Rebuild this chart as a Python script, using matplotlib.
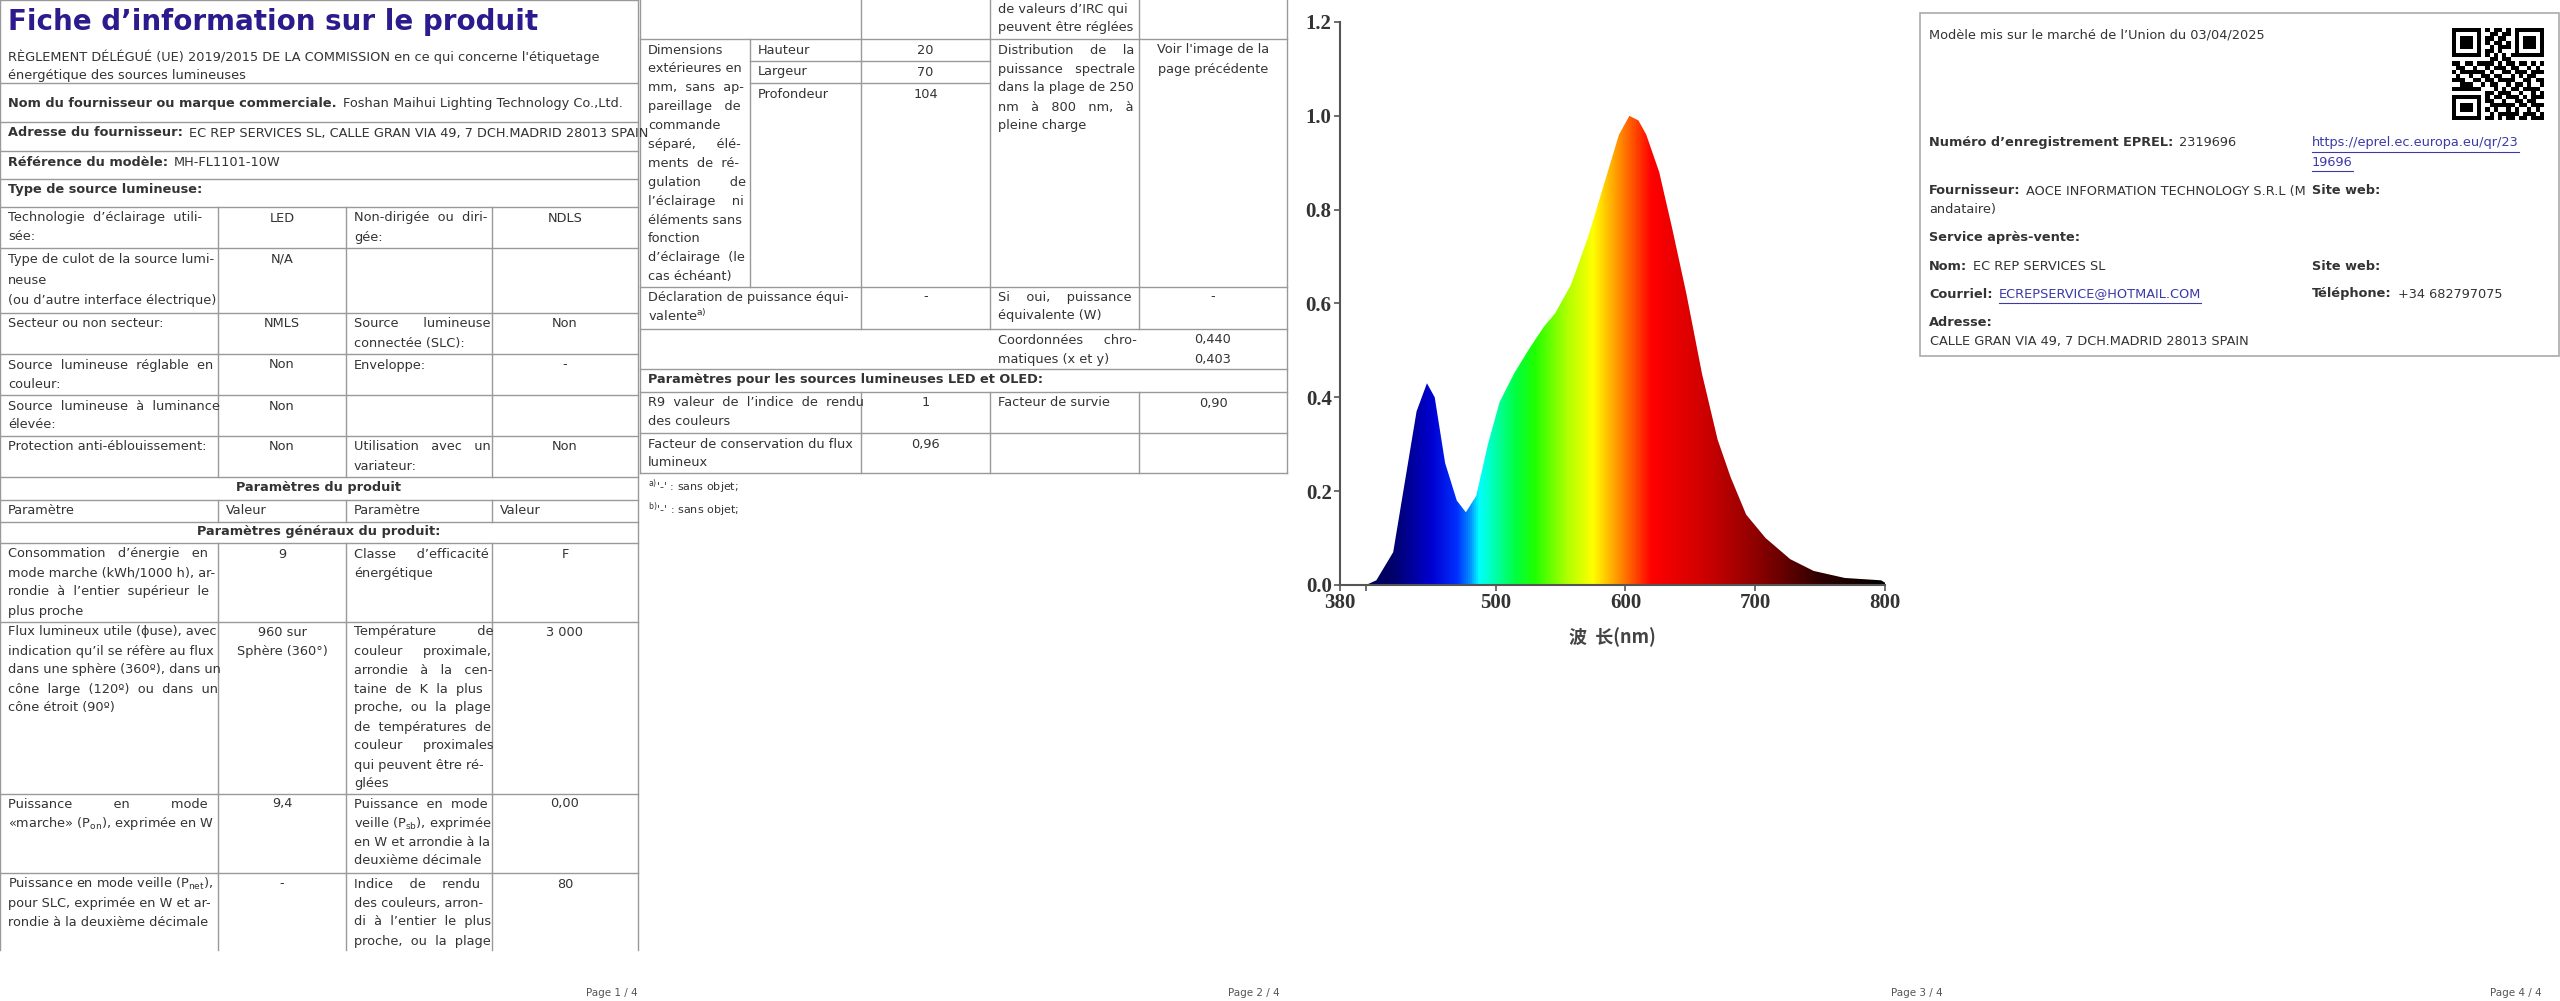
import matplotlib
matplotlib.use('Agg')
import matplotlib.pyplot as plt
from matplotlib.lines import Line2D
from matplotlib.patches import Rectangle, Polygon
from matplotlib.colors import LinearSegmentedColormap
from matplotlib import font_manager
import numpy as np

W, H = 2560, 1001
names = {f.name for f in font_manager.fontManager.ttflist}
BODY = 'Liberation Sans Narrow' if 'Liberation Sans Narrow' in names else 'DejaVu Sans'
plt.rcParams['font.family'] = [BODY, 'DejaVu Sans']
FS = 10.5 if BODY == 'Liberation Sans Narrow' else 9.3

# spectre (page 3)
wavelength = [380, 400, 408, 421, 430, 439, 447, 453, 461, 470, 477, 485, 494, 503, 514, 525,
              537, 546, 558, 571, 583, 595, 603, 610, 616, 626, 636, 647, 659, 671, 681, 693,
              708, 727, 745, 769, 797, 800]
intensity = [0.0, 0.0, 0.01, 0.07, 0.22, 0.37, 0.43, 0.40, 0.26, 0.18, 0.155, 0.19, 0.30, 0.39,
             0.45, 0.50, 0.55, 0.58, 0.64, 0.74, 0.85, 0.96, 1.0, 0.99, 0.96, 0.88, 0.76, 0.62,
             0.45, 0.31, 0.23, 0.15, 0.10, 0.055, 0.03, 0.015, 0.01, 0.005]
x_ticks = [380, 500, 600, 700, 800]
y_ticks = [0.0, 0.2, 0.4, 0.6, 0.8, 1.0, 1.2]

fig = plt.figure(figsize=(25.6, 10.01), dpi=100)
fig.patch.set_facecolor('white')
renderer = fig.canvas.get_renderer()


def T(x, y, s, size=None, ha='left', weight='normal', color='#333333', **kw):
    return fig.text(x / W, 1 - y / H, s, ha=ha, va='center', fontsize=size or FS, weight=weight,
                    color=color, **kw)


def TT(x, y, parts, gap=6):
    """label en gras puis valeur, l'un après l'autre"""
    for s, w, col in parts:
        t = T(x, y, s, weight=w, color=col)
        x = t.get_window_extent(renderer).x1 + gap
    return t


def L(x0, y0, x1, y1, color='#999999', lw=1.0):
    fig.add_artist(Line2D([x0 / W, x1 / W], [1 - y0 / H, 1 - y1 / H], color=color, lw=lw))


def U(t, y, color):
    e = t.get_window_extent(renderer)
    L(e.x0, y, e.x1, y, color=color, lw=0.8)


def lines(x, ys, texts, **kw):
    for y, s in zip(ys, texts):
        T(x, y, s, **kw)


G = '#333333'
# ---------------- Page 1 ----------------
c1, c2, c3, R = 218, 346, 492, 638
L(0, 0, 0, 950); L(R, 0, R, 950); L(0, 0, R, 0)
T(8, 22, "Fiche d’information sur le produit", size=20, weight='bold', color='#2b1b8c')
lines(8, [57, 75], ["RÈGLEMENT DÉLÉGUÉ (UE) 2019/2015 DE LA COMMISSION en ce qui concerne l'étiquetage",
                    "énergétique des sources lumineuses"])
for y in [83, 122, 151, 179, 207]:
    L(0, y, R, y)
TT(8, 104, [("Nom du fournisseur ou marque commerciale.", 'bold', G),
            ("Foshan Maihui Lighting Technology Co.,Ltd.", 'normal', G)])
TT(8, 133, [("Adresse du fournisseur:", 'bold', G),
            ("EC REP SERVICES SL, CALLE GRAN VIA 49, 7 DCH.MADRID 28013 SPAIN", 'normal', G)])
TT(8, 162, [("Référence du modèle:", 'bold', G), ("MH-FL1101-10W", 'normal', G)])
T(8, 190, "Type de source lumineuse:", weight='bold')
for x in [c1, c2, c3]:
    L(x, 207, x, 477)
rows1 = [
    (218, ["Technologie  d’éclairage  utili-", "sée:"], "LED", ["Non-dirigée  ou  diri-", "gée:"], "NDLS", 248),
    (259, ["Type de culot de la source lumi-", "neuse", "(ou d’autre interface électrique)"], "N/A", [], "", 313),
    (324, ["Secteur ou non secteur:"], "NMLS", ["Source      lumineuse", "connectée (SLC):"], "Non", 354),
    (365, ["Source  lumineuse  réglable  en", "couleur:"], "Non", ["Enveloppe:"], "-", 395),
    (406, ["Source  lumineuse  à  luminance", "élevée:"], "Non", [], "", 436),
    (447, ["Protection anti-éblouissement:"], "Non", ["Utilisation   avec   un", "variateur:"], "Non", 477),
]
for y0, a, b, c, d, yl in rows1:
    step = 19 if len(a) < 3 else 21
    lines(8, [y0 + i * step for i in range(len(a))], a)
    T((c1 + c2) / 2, y0, b, ha='center')
    lines(c2 + 8, [y0 + i * 19 for i in range(len(c))], c)
    T((c3 + R) / 2, y0, d, ha='center')
    L(0, yl, R, yl)
T(R / 2, 488, "Paramètres du produit", weight='bold', ha='center')
L(0, 500, R, 500)
for x in [c1, c2, c3]:
    L(x, 500, x, 522)
T(8, 511, "Paramètre"); T(c1 + 8, 511, "Valeur"); T(c2 + 8, 511, "Paramètre"); T(c3 + 8, 511, "Valeur")
L(0, 522, R, 522)
T(R / 2, 532, "Paramètres généraux du produit:", weight='bold', ha='center')
L(0, 543, R, 543)
for x in [c1, c2, c3]:
    L(x, 543, x, 950)
rows2 = [
    (554, ["Consommation   d’énergie   en", "mode marche (kWh/1000 h), ar-", "rondie  à  l’entier  supérieur  le",
           "plus proche"], ["9"], ["Classe     d’efficacité", "énergétique"], "F", 622),
    (632, ["Flux lumineux utile (ϕuse), avec", "indication qu’il se réfère au flux", "dans une sphère (360º), dans un",
           "cône  large  (120º)  ou  dans  un", "cône étroit (90º)"], ["960 sur", "Sphère (360°)"],
     ["Température          de", "couleur     proximale,", "arrondie   à   la   cen-", "taine  de  K  la  plus",
      "proche,  ou  la  plage", "de  températures  de", "couleur     proximales", "qui peuvent être ré-", "glées"],
     "3 000", 794),
    (804, ["Puissance          en          mode", r"«marche» ($\mathregular{P_{on}}$), exprimée en W"], ["9,4"],
     ["Puissance  en  mode", r"veille ($\mathregular{P_{sb}}$), exprimée", "en W et arrondie à la", "deuxième décimale"],
     "0,00", 873),
    (884, [r"Puissance en mode veille ($\mathregular{P_{net}}$),", "pour SLC, exprimée en W et ar-",
           "rondie à la deuxième décimale"], ["-"],
     ["Indice    de    rendu", "des couleurs, arron-", "di  à  l’entier  le  plus", "proche,  ou  la  plage"], "80", None),
]
for y0, a, b, c, d, yl in rows2:
    lines(8, [y0 + i * 19 for i in range(len(a))], a)
    lines((c1 + c2) / 2, [y0 + i * 19 for i in range(len(b))], b, ha='center')
    lines(c2 + 8, [y0 + i * 19 for i in range(len(c))], c)
    T((c3 + R) / 2, y0, d, ha='center')
    if yl:
        L(0, yl, R, yl)
T(R, 993, "Page 1 / 4", size=7.5, ha='right', color='#555555')

# ---------------- Page 2 ----------------
X0, d1, d2, d3, d4, R2 = 640, 750, 861, 990, 1139, 1287
L(X0, 0, X0, 473); L(R2, 0, R2, 473)
for x in [d2, d3, d4]:
    L(x, 0, x, 329)
lines(d3 + 8, [9, 28], ["de valeurs d’IRC qui", "peuvent être réglées"])
L(X0, 39, R2, 39)
L(d1, 39, d1, 287)
L(d1, 61, d3, 61); L(d1, 83, d3, 83)
lines(X0 + 8, [50 + i * 18.9 for i in range(13)],
      ["Dimensions", "extérieures en", "mm,  sans  ap-", "pareillage   de", "commande", "séparé,     élé-",
       "ments  de  ré-", "gulation       de", "l’éclairage    ni", "éléments sans", "fonction",
       "d’éclairage  (le", "cas échéant)"])
T(d1 + 8, 50, "Hauteur"); T(d1 + 8, 72, "Largeur"); T(d1 + 8, 94, "Profondeur")
T((d2 + d3) / 2, 50, "20", ha='center'); T((d2 + d3) / 2, 72, "70", ha='center')
T((d2 + d3) / 2, 94, "104", ha='center')
lines(d3 + 8, [50, 69, 88, 107, 125], ["Distribution    de    la", "puissance   spectrale",
                                     "dans la plage de 250", "nm   à   800   nm,   à", "pleine charge"])
lines((d4 + R2) / 2, [50, 69], ["Voir l'image de la", "page précédente"], ha='center')
L(X0, 287, R2, 287)
lines(X0 + 8, [297, 316], ["Déclaration de puissance équi-", r"valente$\mathregular{^{a)}}$"])
T((d2 + d3) / 2, 297, "-", ha='center')
lines(d3 + 8, [297, 316], ["Si    oui,    puissance", "équivalente (W)"])
T((d4 + R2) / 2, 297, "-", ha='center')
L(X0, 329, R2, 329)
lines(d3 + 8, [340, 359], ["Coordonnées     chro-", "matiques (x et y)"])
lines((d4 + R2) / 2, [340, 359], ["0,440", "0,403"], ha='center')
L(X0, 369, R2, 369)
T(X0 + 8, 380, "Paramètres pour les sources lumineuses LED et OLED:", weight='bold')
L(X0, 392, R2, 392)
for x in [d2, d3, d4]:
    L(x, 392, x, 473)
lines(X0 + 8, [403, 421], ["R9  valeur  de  l’indice  de  rendu", "des couleurs"])
T((d2 + d3) / 2, 403, "1", ha='center')
T(d3 + 8, 403, "Facteur de survie")
T((d4 + R2) / 2, 403, "0,90", ha='center')
L(X0, 433, R2, 433)
lines(X0 + 8, [444, 462], ["Facteur de conservation du flux", "lumineux"])
T((d2 + d3) / 2, 444, "0,96", ha='center')
L(X0, 473, R2, 473)
T(X0 + 8, 487, r"$\mathregular{^{a)}}$'-' : sans objet;", size=8)
T(X0 + 8, 510, r"$\mathregular{^{b)}}$'-' : sans objet;", size=8)
T(1280, 993, "Page 2 / 4", size=7.5, ha='right', color='#555555')

# ---------------- Page 3 : spectre ----------------
ax = fig.add_axes([1340 / W, 1 - 585 / H, 545 / W, 563 / H])
cmap = LinearSegmentedColormap.from_list('spec', [
    (0.0, '#000040'), (40 / 420, '#00006a'), (70 / 420, '#0000d0'), (90 / 420, '#0030ff'),
    (100 / 420, '#0090ff'), (107 / 420, '#00ffff'), (135 / 420, '#00ff40'), (150 / 420, '#20ff00'),
    (175 / 420, '#b0ff00'), (195 / 420, '#ffff00'), (215 / 420, '#ff9000'), (240 / 420, '#ff0000'),
    (280 / 420, '#d00000'), (320 / 420, '#900000'), (370 / 420, '#300000'), (1.0, '#000000')])
grad = np.linspace(0, 1, 512).reshape(1, -1)
im = ax.imshow(grad, extent=[380, 800, 0, 1.2], aspect='auto', cmap=cmap, origin='lower')
poly = Polygon(list(zip(wavelength, intensity)) + [(800, 0), (380, 0)], closed=True,
               facecolor='none', edgecolor='none')
ax.add_patch(poly)
im.set_clip_path(poly)
ax.set_xlim(380, 800)
ax.set_ylim(0, 1.2)
ax.set_xticks(x_ticks + [400])
ax.set_xticklabels([str(v) for v in x_ticks] + [''])
ax.set_yticks(y_ticks)
ax.set_yticklabels([f'{v:.1f}' for v in y_ticks])
for s in ['top', 'right']:
    ax.spines[s].set_visible(False)
for s in ['left', 'bottom']:
    ax.spines[s].set_color('#555555')
    ax.spines[s].set_linewidth(1.5)
ax.tick_params(direction='out', length=4, width=1.2, color='#555555', labelsize=15, pad=2)
for lab in ax.get_xticklabels() + ax.get_yticklabels():
    lab.set_fontfamily('Liberation Serif')
    lab.set_fontweight('bold')
    lab.set_color('#333333')
ax.set_xlabel('波  长(nm)', fontsize=13, fontweight='bold', family=['Noto Sans CJK SC', 'DejaVu Sans'],
              color='#444444', labelpad=10)
T(1943, 993, "Page 3 / 4", size=7.5, ha='right', color='#555555')

# ---------------- Page 4 ----------------
fig.add_artist(Rectangle((1920 / W, 1 - 356 / H), 639 / W, 343 / H, transform=fig.transFigure,
                         facecolor='none', edgecolor='#aaaaaa', lw=1.2))
T(1929, 35, "Modèle mis sur le marché de l’Union du 03/04/2025")
qr = ["1111111010110101111111", "1000001001101101000001", "1011101011011001011101",
      "1011101010110101011101", "1011101001011101011101", "1000001011010001000001",
      "1111111010101011111111", "0000000001101100000000", "1101101111010110110101",
      "0110010010111011001010", "1011111101001101110111", "0100100110110010101100",
      "1110011011011110011011", "0011100101100101101001", "1111111000101011011110",
      "0000000011011100100101", "1111111010110111010111", "1000001011001001101100",
      "1011101001111110110111", "1011101010100101001010", "1000001001011111011101",
      "1111111011010110110111"]
n = len(qr)
qx0, qy0, qs = 2452, 28, 92 / n
for i, row in enumerate(qr):
    for j, ch in enumerate(row):
        if ch == '1':
            fig.add_artist(Rectangle(((qx0 + j * qs) / W, 1 - (qy0 + (i + 1) * qs) / H),
                                     qs / W, qs / H, transform=fig.transFigure,
                                     facecolor='black', edgecolor='none'))
LINK = '#3a3aa8'
TT(1929, 143, [("Numéro d’enregistrement EPREL:", 'bold', G), ("2319696", 'normal', G)])
U(T(2312, 143, "https://eprel.ec.europa.eu/qr/23", color=LINK), 152, LINK)
U(T(2312, 162, "19696", color=LINK), 171, LINK)
TT(1929, 191, [("Fournisseur:", 'bold', G), ("AOCE INFORMATION TECHNOLOGY S.R.L (M", 'normal', G)])
T(1929, 209, "andataire)")
T(2312, 191, "Site web:", weight='bold')
T(1929, 238, "Service après-vente:", weight='bold')
TT(1929, 266, [("Nom:", 'bold', G), ("EC REP SERVICES SL", 'normal', G)])
T(2312, 266, "Site web:", weight='bold')
U(TT(1929, 294, [("Courriel:", 'bold', G), ("ECREPSERVICE@HOTMAIL.COM", 'normal', LINK)]), 303, LINK)
TT(2312, 294, [("Téléphone:", 'bold', G), ("+34 682797075", 'normal', G)])
T(1929, 322, "Adresse:", weight='bold')
T(1930, 341, "CALLE GRAN VIA 49, 7 DCH.MADRID 28013 SPAIN")
T(2542, 993, "Page 4 / 4", size=7.5, ha='right', color='#555555')

fig.savefig('out.png', dpi=100, facecolor='white')
